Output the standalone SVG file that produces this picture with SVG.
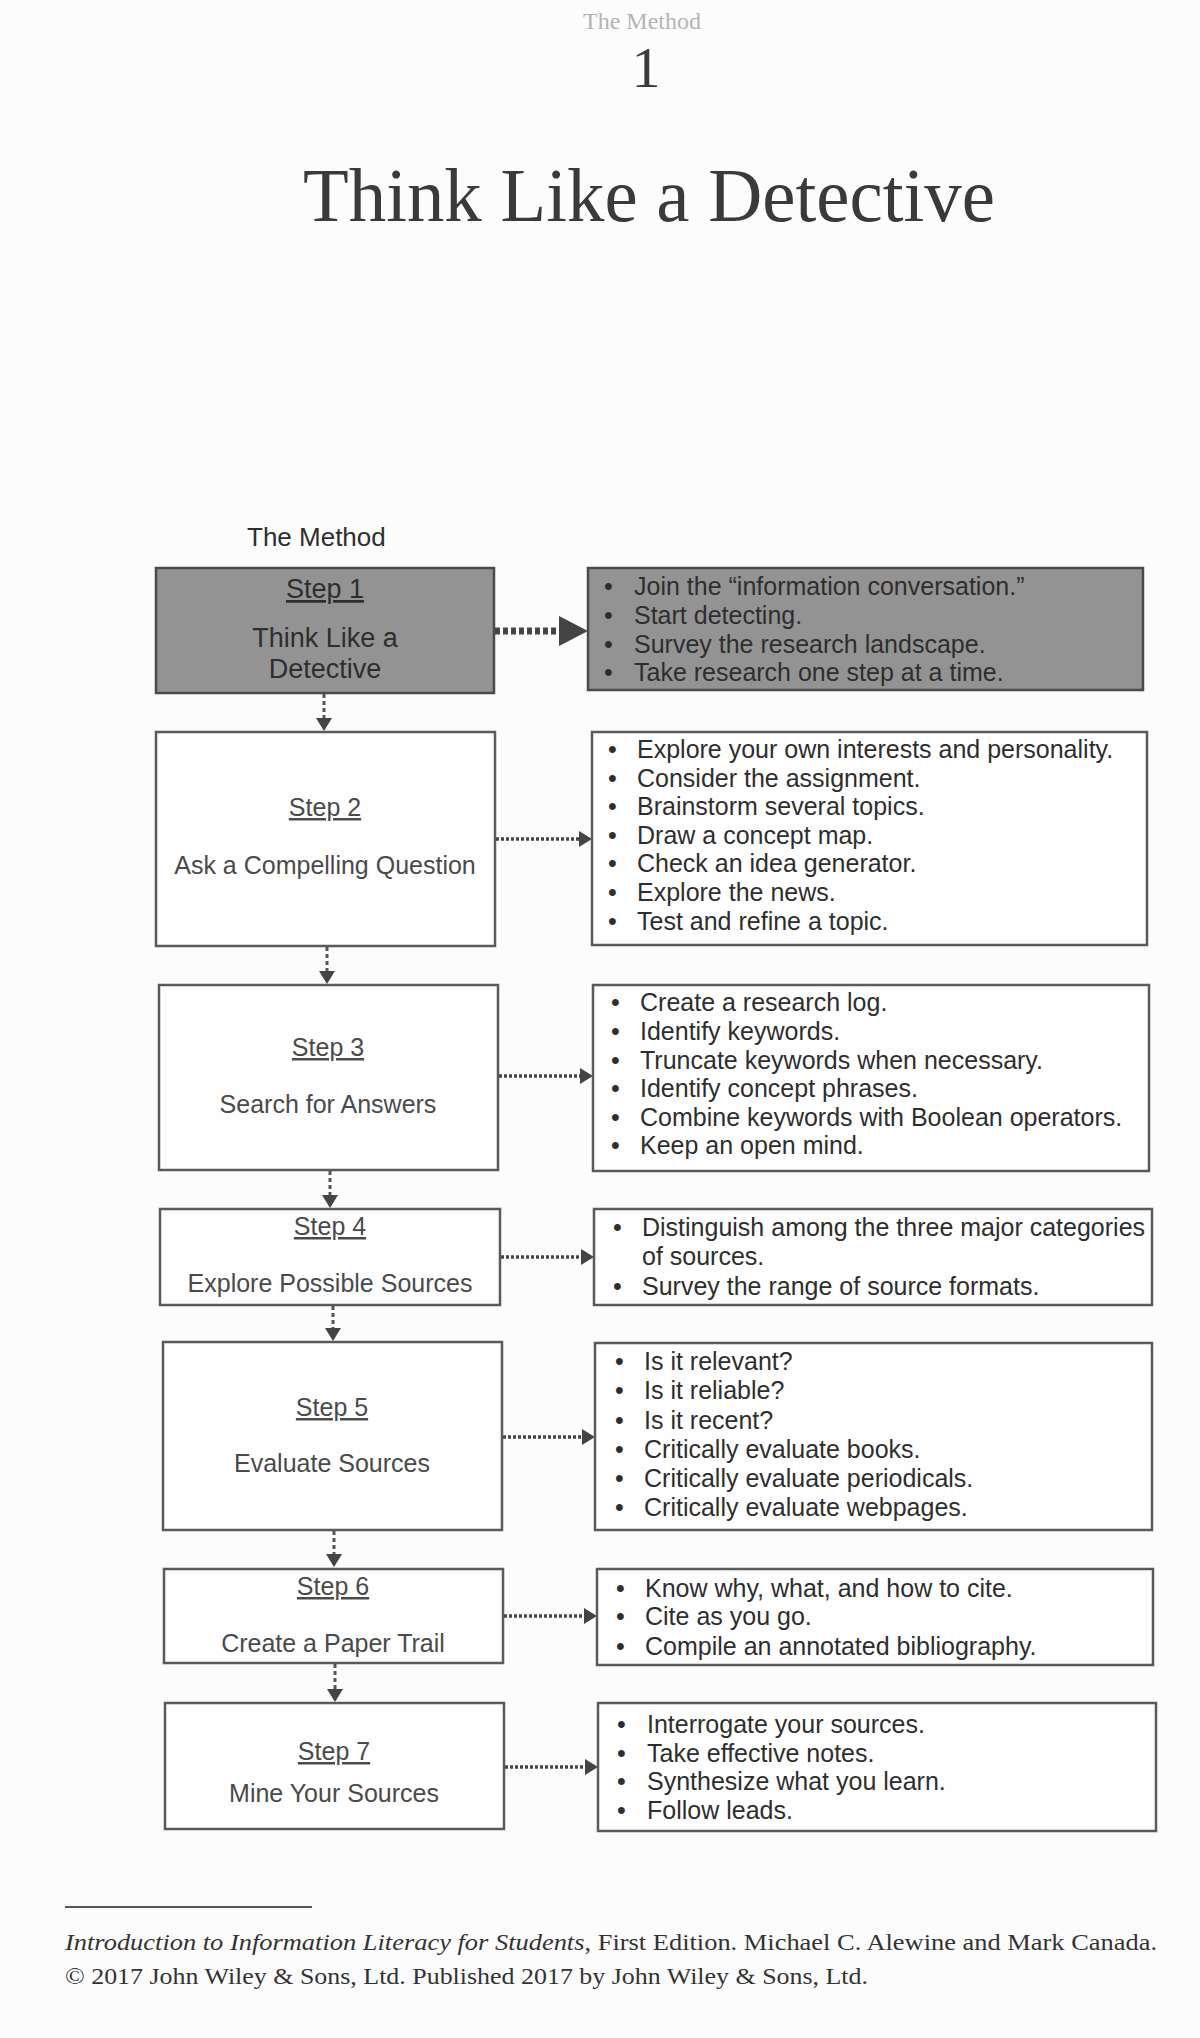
<svg xmlns="http://www.w3.org/2000/svg" width="1200" height="2038" viewBox="0 0 1200 2038">
<style>
.bg{fill:#fcfcfc}
.box{fill:#fefefe;stroke:#5a5a5a;stroke-width:2.5}
.dark{fill:#939393;stroke:#4a4a4a;stroke-width:2.5}
.st{font-family:"Liberation Sans",Arial,sans-serif;font-size:25px;fill:#4a4a4a;text-anchor:middle}
.st1{font-family:"Liberation Sans",Arial,sans-serif;font-size:27px;fill:#2e2e2e;text-anchor:middle}
.u{text-decoration:underline}
.bl{font-family:"Liberation Sans",Arial,sans-serif;font-size:25px;fill:#2e2e2e}
.hd{font-family:"Liberation Serif","Times New Roman",serif;fill:#3a3a3a;text-anchor:middle}
.ft{font-family:"Liberation Serif","Times New Roman",serif;font-size:24px;fill:#333}
.dot{stroke:#444;stroke-width:3.5;stroke-dasharray:3 2;fill:none}
.vdot{stroke:#555;stroke-width:3;stroke-dasharray:4 3;fill:none}
.head{fill:#444}
</style>
<rect class="bg" x="0" y="0" width="1200" height="2038"/>

<g id="page-header">
<text class="hd" x="642" y="29" font-size="24" style="fill:#b4b4b4">The Method</text>
<text class="hd" x="646" y="87" font-size="58">1</text>
<text class="hd" x="649" y="221" font-size="76" textLength="692" lengthAdjust="spacingAndGlyphs">Think Like a Detective</text>
</g>

<g id="method-label">
<text class="bl" x="247" y="546" style="font-size:26px">The Method</text>
</g>

<g id="connectors">
<line class="dot" x1="495" y1="631" x2="561" y2="631" style="stroke-width:7;stroke-dasharray:5 3"/>
<polygon class="head" points="559,616 588,631 559,646"/>
<line class="dot" x1="496" y1="839" x2="580" y2="839"/>
<polygon class="head" points="579,831 592,839 579,847"/>
<line class="dot" x1="499" y1="1076" x2="581" y2="1076"/>
<polygon class="head" points="580,1068 593,1076 580,1084"/>
<line class="dot" x1="501" y1="1257" x2="582" y2="1257"/>
<polygon class="head" points="581,1249 594,1257 581,1265"/>
<line class="dot" x1="503" y1="1437" x2="583" y2="1437"/>
<polygon class="head" points="582,1429 595,1437 582,1445"/>
<line class="dot" x1="504" y1="1616" x2="585" y2="1616"/>
<polygon class="head" points="584,1608 597,1616 584,1624"/>
<line class="dot" x1="505" y1="1767" x2="586" y2="1767"/>
<polygon class="head" points="585,1759 598,1767 585,1775"/>
<line class="vdot" x1="324" y1="694" x2="324" y2="719"/>
<polygon class="head" points="316,718 332,718 324,731"/>
<line class="vdot" x1="327" y1="947" x2="327" y2="972"/>
<polygon class="head" points="319,971 335,971 327,984"/>
<line class="vdot" x1="330" y1="1171" x2="330" y2="1196"/>
<polygon class="head" points="322,1195 338,1195 330,1208"/>
<line class="vdot" x1="333" y1="1306" x2="333" y2="1329"/>
<polygon class="head" points="325,1328 341,1328 333,1341"/>
<line class="vdot" x1="334" y1="1531" x2="334" y2="1555"/>
<polygon class="head" points="326,1554 342,1554 334,1567"/>
<line class="vdot" x1="335" y1="1664" x2="335" y2="1690"/>
<polygon class="head" points="327,1689 343,1689 335,1702"/>
</g>

<g id="step1">
<rect class="dark" x="156" y="568" width="338" height="125"/>
<text class="st1 u" x="325" y="598">Step 1</text>
<text class="st1" x="325" y="647">Think Like a</text>
<text class="st1" x="325" y="678">Detective</text>
</g>
<g id="step1-tasks">
<rect class="dark" x="588" y="568" width="555" height="122"/>
<g class="bl">
<text x="604" y="595">•</text><text x="634" y="595">Join the “information conversation.”</text>
<text x="604" y="624">•</text><text x="634" y="624">Start detecting.</text>
<text x="604" y="653">•</text><text x="634" y="653">Survey the research landscape.</text>
<text x="604" y="681">•</text><text x="634" y="681">Take research one step at a time.</text>
</g>
</g>

<g id="step2">
<rect class="box" x="156" y="732" width="339" height="214"/>
<text class="st u" x="325" y="816">Step 2</text>
<text class="st" x="325" y="874">Ask a Compelling Question</text>
</g>
<g id="step2-tasks">
<rect class="box" x="592" y="732" width="555" height="213"/>
<g class="bl">
<text x="608" y="758">•</text><text x="637" y="758">Explore your own interests and personality.</text>
<text x="608" y="787">•</text><text x="637" y="787">Consider the assignment.</text>
<text x="608" y="815">•</text><text x="637" y="815">Brainstorm several topics.</text>
<text x="608" y="844">•</text><text x="637" y="844">Draw a concept map.</text>
<text x="608" y="872">•</text><text x="637" y="872">Check an idea generator.</text>
<text x="608" y="901">•</text><text x="637" y="901">Explore the news.</text>
<text x="608" y="930">•</text><text x="637" y="930">Test and refine a topic.</text>
</g>
</g>

<g id="step3">
<rect class="box" x="159" y="985" width="339" height="185"/>
<text class="st u" x="328" y="1056">Step 3</text>
<text class="st" x="328" y="1113">Search for Answers</text>
</g>
<g id="step3-tasks">
<rect class="box" x="593" y="985" width="556" height="186"/>
<g class="bl">
<text x="611" y="1011">•</text><text x="640" y="1011">Create a research log.</text>
<text x="611" y="1040">•</text><text x="640" y="1040">Identify keywords.</text>
<text x="611" y="1069">•</text><text x="640" y="1069">Truncate keywords when necessary.</text>
<text x="611" y="1097">•</text><text x="640" y="1097">Identify concept phrases.</text>
<text x="611" y="1126">•</text><text x="640" y="1126">Combine keywords with Boolean operators.</text>
<text x="611" y="1154">•</text><text x="640" y="1154">Keep an open mind.</text>
</g>
</g>

<g id="step4">
<rect class="box" x="160" y="1209" width="340" height="96"/>
<text class="st u" x="330" y="1235">Step 4</text>
<text class="st" x="330" y="1292">Explore Possible Sources</text>
</g>
<g id="step4-tasks">
<rect class="box" x="594" y="1209" width="558" height="96"/>
<g class="bl">
<text x="613" y="1236">•</text><text x="642" y="1236">Distinguish among the three major categories</text>
<text x="642" y="1265">of sources.</text>
<text x="613" y="1295">•</text><text x="642" y="1295">Survey the range of source formats.</text>
</g>
</g>

<g id="step5">
<rect class="box" x="163" y="1342" width="339" height="188"/>
<text class="st u" x="332" y="1416">Step 5</text>
<text class="st" x="332" y="1472">Evaluate Sources</text>
</g>
<g id="step5-tasks">
<rect class="box" x="595" y="1343" width="557" height="187"/>
<g class="bl">
<text x="615" y="1370">•</text><text x="644" y="1370">Is it relevant?</text>
<text x="615" y="1399">•</text><text x="644" y="1399">Is it reliable?</text>
<text x="615" y="1429">•</text><text x="644" y="1429">Is it recent?</text>
<text x="615" y="1458">•</text><text x="644" y="1458">Critically evaluate books.</text>
<text x="615" y="1487">•</text><text x="644" y="1487">Critically evaluate periodicals.</text>
<text x="615" y="1516">•</text><text x="644" y="1516">Critically evaluate webpages.</text>
</g>
</g>

<g id="step6">
<rect class="box" x="164" y="1569" width="339" height="94"/>
<text class="st u" x="333" y="1595">Step 6</text>
<text class="st" x="333" y="1652">Create a Paper Trail</text>
</g>
<g id="step6-tasks">
<rect class="box" x="597" y="1569" width="556" height="96"/>
<g class="bl">
<text x="616" y="1597">•</text><text x="645" y="1597">Know why, what, and how to cite.</text>
<text x="616" y="1625">•</text><text x="645" y="1625">Cite as you go.</text>
<text x="616" y="1655">•</text><text x="645" y="1655">Compile an annotated bibliography.</text>
</g>
</g>

<g id="step7">
<rect class="box" x="165" y="1703" width="339" height="126"/>
<text class="st u" x="334" y="1760">Step 7</text>
<text class="st" x="334" y="1802">Mine Your Sources</text>
</g>
<g id="step7-tasks">
<rect class="box" x="598" y="1703" width="558" height="128"/>
<g class="bl">
<text x="617" y="1733">•</text><text x="647" y="1733">Interrogate your sources.</text>
<text x="617" y="1762">•</text><text x="647" y="1762">Take effective notes.</text>
<text x="617" y="1790">•</text><text x="647" y="1790">Synthesize what you learn.</text>
<text x="617" y="1819">•</text><text x="647" y="1819">Follow leads.</text>
</g>
</g>

<g id="footnote">
<line x1="65" y1="1907" x2="312" y2="1907" stroke="#555" stroke-width="2"/>
<text class="ft" x="65" y="1950" textLength="1092" lengthAdjust="spacingAndGlyphs"><tspan font-style="italic">Introduction to Information Literacy for Students</tspan>, First Edition. Michael C. Alewine and Mark Canada.</text>
<text class="ft" x="65" y="1984" textLength="803" lengthAdjust="spacingAndGlyphs">© 2017 John Wiley &amp; Sons, Ltd. Published 2017 by John Wiley &amp; Sons, Ltd.</text>
</g>
</svg>
